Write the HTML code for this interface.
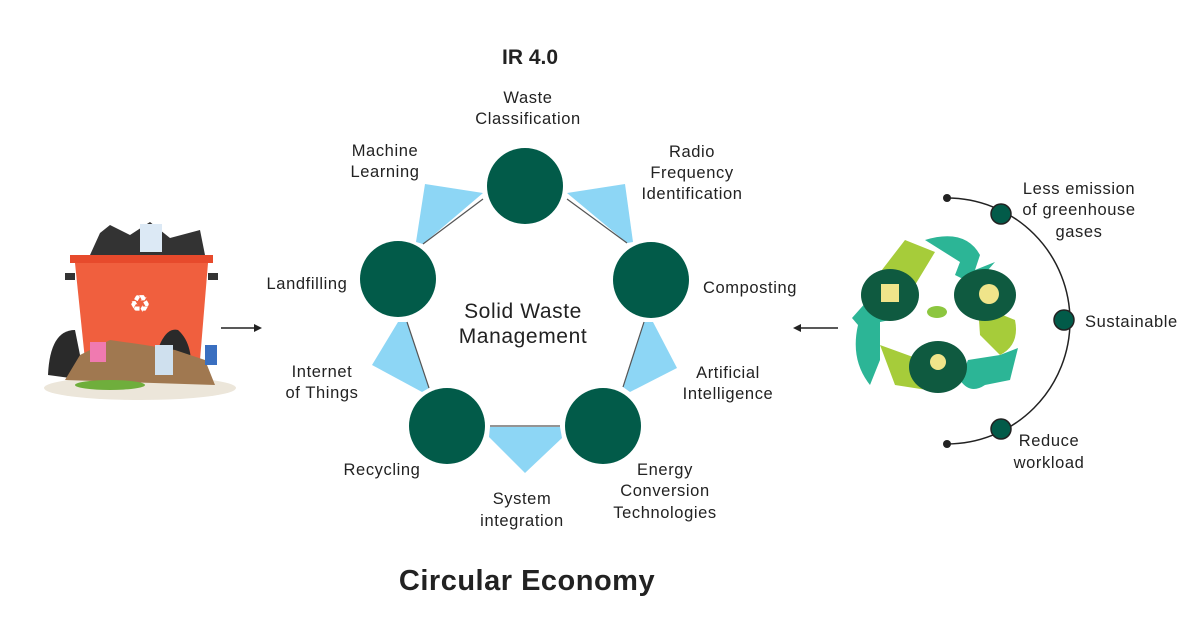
<!DOCTYPE html>
<html><head><meta charset="utf-8"><style>
html,body{margin:0;padding:0;background:#fff}
svg{display:block}
text{font-family:"Liberation Sans",sans-serif;fill:#222}
</style></head><body>
<svg width="1200" height="628" viewBox="0 0 1200 628" xmlns="http://www.w3.org/2000/svg">
<text x="530" y="64" font-size="21" font-weight="bold" text-anchor="middle">IR 4.0</text>
<text x="527" y="590" font-size="29" font-weight="bold" text-anchor="middle" letter-spacing="0.5">Circular Economy</text>

<g fill="#8dd6f5">
<polygon points="425,184 483,193 423,244 416,242"/>
<polygon points="567,193 625,184 633,242 627,243"/>
<polygon points="398,322 407,322 429,388 422,392 372,365"/>
<polygon points="644,322 653,322 677,368 630,392 623,387"/>
<polygon points="490,427 560,427 562,438 525,473 489,437"/>
</g>
<g stroke="#555" stroke-width="1.2">
<line x1="423" y1="244" x2="483" y2="199"/>
<line x1="567" y1="199" x2="627" y2="243"/>
<line x1="407" y1="322" x2="429" y2="388"/>
<line x1="644" y1="322" x2="623" y2="387"/>
<line x1="490" y1="426" x2="560" y2="426"/>
</g>
<g fill="#025b49">
<circle cx="525" cy="186" r="38"/>
<circle cx="398" cy="279" r="38"/>
<circle cx="651" cy="280" r="38"/>
<circle cx="447" cy="426" r="38"/>
<circle cx="603" cy="426" r="38"/>
</g>
<g font-size="16.5" text-anchor="middle" letter-spacing="0.6">
<text x="528" y="103">Waste</text><text x="528" y="124">Classification</text>
<text x="385" y="156">Machine</text><text x="385" y="177">Learning</text>
<text x="692" y="157">Radio</text><text x="692" y="178">Frequency</text><text x="692" y="199">Identification</text>
<text x="307" y="289">Landfilling</text>
<text x="750" y="293">Composting</text>
<text x="322" y="377">Internet</text><text x="322" y="398">of Things</text>
<text x="728" y="378">Artificial</text><text x="728" y="399">Intelligence</text>
<text x="382" y="475">Recycling</text>
<text x="522" y="504">System</text><text x="522" y="526">integration</text>
<text x="665" y="475">Energy</text><text x="665" y="496">Conversion</text><text x="665" y="518">Technologies</text>
<text x="523" y="318" font-size="21">Solid Waste</text><text x="523" y="343" font-size="21">Management</text>
</g>

<g stroke="#222" stroke-width="1.5" fill="#222">
<line x1="221" y1="328" x2="256" y2="328"/><polygon points="262,328 254,324 254,332" stroke="none"/>
<line x1="838" y1="328" x2="800" y2="328"/><polygon points="793,328 801,324 801,332" stroke="none"/>
</g>

<!-- trash bin -->
<ellipse cx="140" cy="388" rx="96" ry="12" fill="#ece6da"/>
<path d="M100,233 L110,225 L130,235 L150,222 L170,238 L200,230 L205,255 L90,255 Z" fill="#333"/>
<rect x="140" y="224" width="22" height="28" fill="#dce9f5"/>
<rect x="70" y="255" width="143" height="8" fill="#e74a2c"/>
<path d="M75,263 L208,263 L200,360 L85,360 Z" fill="#f05f3e"/>
<rect x="65" y="273" width="10" height="7" fill="#333"/><rect x="208" y="273" width="10" height="7" fill="#333"/>
<text x="140" y="312" font-size="24" text-anchor="middle" style="fill:#fff">♻</text>
<path d="M48,375 Q50,330 75,330 L85,380 Z" fill="#2a2a2a"/>
<path d="M150,380 Q160,325 178,330 Q195,345 190,380 Z" fill="#2a2a2a"/>
<path d="M65,380 L80,355 L110,340 L145,345 L175,350 L205,360 L215,385 Z" fill="#a07850"/>
<rect x="90" y="342" width="16" height="20" fill="#f07ab0"/>
<rect x="155" y="345" width="18" height="30" fill="#cfe0ee"/>
<rect x="205" y="345" width="12" height="20" fill="#3a6fc0"/>
<ellipse cx="110" cy="385" rx="35" ry="5" fill="#6fae3c"/>

<!-- recycle graphic -->
<g>
<path d="M878,275 L905,240 L935,252 L912,290 Z" fill="#a6cc3a"/>
<path d="M925,240 Q965,228 980,255 L975,270 L995,262 L975,285 L955,275 L960,262 Z" fill="#2cb596"/>
<path d="M978,305 L1015,320 Q1020,345 1000,355 L980,335 Z" fill="#a6cc3a"/>
<path d="M1000,355 L1018,348 L1010,380 L985,385 Q970,395 960,380 L968,360 Z" fill="#2cb596"/>
<path d="M880,345 L895,385 L940,392 L935,365 Z" fill="#a6cc3a"/>
<path d="M852,318 L868,300 L890,320 L880,322 L880,360 L870,385 Q850,360 858,325 Z" fill="#2cb596"/>
<ellipse cx="890" cy="295" rx="29" ry="26" fill="#0f5a40"/>
<ellipse cx="985" cy="295" rx="31" ry="26" fill="#0f5a40"/>
<ellipse cx="938" cy="367" rx="29" ry="26" fill="#0f5a40"/>
<rect x="881" y="284" width="18" height="18" fill="#f0e48a"/>
<circle cx="989" cy="294" r="10" fill="#f0e48a"/>
<circle cx="938" cy="362" r="8" fill="#f0e48a"/>
<ellipse cx="937" cy="312" rx="10" ry="6" fill="#8cc63f"/>
</g>

<path d="M947,198 A122,122 0 0 1 947,444" fill="none" stroke="#222" stroke-width="1.5"/>
<g fill="#025b49" stroke="#222" stroke-width="1.5">
<circle cx="1001" cy="214" r="10"/>
<circle cx="1064" cy="320" r="10"/>
<circle cx="1001" cy="429" r="10"/>
</g>
<circle cx="947" cy="198" r="4" fill="#222"/><circle cx="947" cy="444" r="4" fill="#222"/>
<g font-size="16.5" text-anchor="middle" letter-spacing="0.6">
<text x="1079" y="194">Less emission</text><text x="1079" y="215">of greenhouse</text><text x="1079" y="237">gases</text>
<text x="1049" y="446">Reduce</text><text x="1049" y="468">workload</text>
</g>
<text x="1085" y="327" font-size="16.5" letter-spacing="0.6">Sustainable</text>
</svg>
</body></html>
